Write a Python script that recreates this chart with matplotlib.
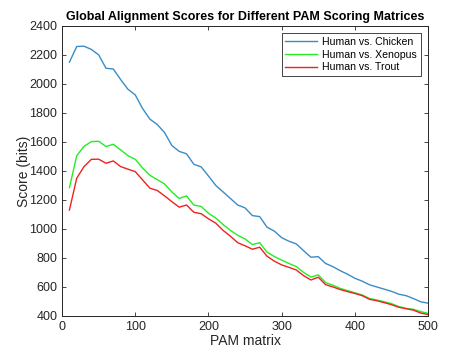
import numpy as np
import matplotlib.pyplot as plt

plt.rcParams['font.family'] = ['Liberation Sans', 'DejaVu Sans']

pam = np.arange(10, 501, 10)

chicken = [2150, 2258, 2260, 2238, 2200, 2108, 2103, 2030, 1963, 1924,
           1830, 1757, 1720, 1665, 1575, 1535, 1518, 1446, 1428, 1365,
           1300, 1255, 1210, 1165, 1145, 1092, 1085, 1012, 985, 940,
           915, 897, 850, 805, 809, 762, 740, 712, 688, 660,
           640, 615, 600, 585, 570, 550, 540, 520, 498, 488]

xenopus = [1285, 1505, 1570, 1602, 1605, 1568, 1584, 1545, 1505, 1480,
           1420, 1370, 1340, 1310, 1255, 1210, 1228, 1165, 1155, 1108,
           1075, 1030, 990, 956, 931, 892, 905, 840, 810, 785,
           762, 740, 700, 668, 683, 630, 612, 590, 575, 560,
           545, 520, 510, 498, 485, 465, 452, 446, 430, 418]

trout = [1130, 1350, 1430, 1480, 1481, 1453, 1469, 1430, 1412, 1395,
         1338, 1281, 1265, 1228, 1188, 1150, 1165, 1115, 1105, 1070,
         1040, 990, 950, 905, 884, 860, 874, 812, 778, 752,
         735, 717, 678, 648, 667, 616, 600, 582, 568, 555,
         540, 515, 505, 492, 478, 460, 450, 440, 420, 410]

labels = ['Human vs. Chicken', 'Human vs. Xenopus', 'Human vs. Trout']

fig = plt.figure(figsize=(4.74, 3.55), dpi=100)
ax = fig.add_axes([0.131, 0.110, 0.772, 0.817])

ax.plot(pam, chicken, color='#3a8cc6', lw=1.0, label=labels[0])
ax.plot(pam, xenopus, color='#22ee22', lw=1.0, label=labels[1])
ax.plot(pam, trout, color='#ee2222', lw=1.0, label=labels[2])

ax.set_xlim(0, 500)
ax.set_ylim(400, 2400)
ax.set_xticks(np.arange(0, 501, 100))
ax.set_yticks(np.arange(400, 2401, 200))
ax.tick_params(direction='in', top=True, right=True, labelsize=9,
               colors='#262626', length=3, width=0.6)
for s in ax.spines.values():
    s.set_linewidth(0.7)
    s.set_color('#262626')

ax.set_xlabel('PAM matrix', fontsize=10, color='#262626', labelpad=1)
ax.set_ylabel('Score (bits)', fontsize=10, color='#262626', labelpad=-1)
ax.set_title('Global Alignment Scores for Different PAM Scoring Matrices',
             fontsize=9, fontweight='bold', pad=4)

leg = ax.legend(loc='upper right', fontsize=7.6, fancybox=False,
                edgecolor='#262626', framealpha=1, borderpad=0.35,
                labelspacing=0.25, handlelength=3.0, handletextpad=0.5,
                borderaxespad=0.7)
leg.get_frame().set_linewidth(0.6)

fig.savefig('out.png', dpi=100)
